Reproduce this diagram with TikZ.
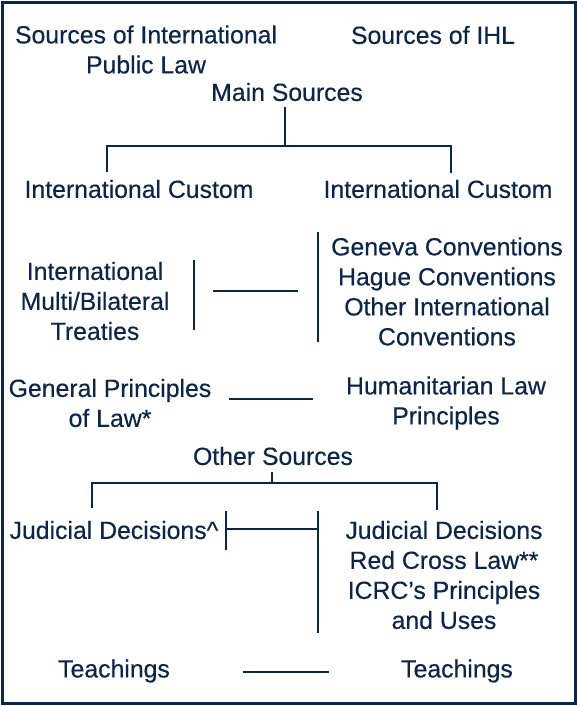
\documentclass[tikz,border=0pt]{standalone}
\usepackage{fontspec}
\setmainfont{Liberation Sans}[FakeBold=0.35]
\definecolor{navy}{RGB}{12,38,72}
\begin{document}
\begin{tikzpicture}[x=1pt,y=-1pt,
  lbl/.style={text=navy,inner sep=0pt,align=center,font=\fontsize{24.8}{30}\selectfont},
  conn/.style={draw=navy,line width=2.2pt},
  frame/.style={draw=navy,line width=3pt}]
\useasboundingbox (0,0) rectangle (577,706);
\draw[frame] (2,3) rectangle (575.5,703.5);
% nodes
\node[lbl] (sil) at (146,49.5) {Sources of International\\Public Law};
\node[lbl] (ihl) at (433,35) {Sources of IHL};
\node[lbl] (main) at (287,92) {Main Sources};
\node[lbl] (ic1) at (139,189) {International Custom};
\node[lbl] (ic2) at (438,189) {International Custom};
\node[lbl] (treat) at (95,301) {International\\Multi/Bilateral\\Treaties};
\node[lbl] (conv) at (447,291.5) {Geneva Conventions\\Hague Conventions\\Other International\\Conventions};
\node[lbl] (gpl) at (110,403) {General Principles\\of Law*};
\node[lbl] (hlp) at (446,403) {Humanitarian Law\\Principles};
\node[lbl] (other) at (273,456) {Other Sources};
\node[lbl] (jd1) at (114,530) {Judicial Decisions\^{}};
\node[lbl] (jd2) at (444,575) {Judicial Decisions\\Red Cross Law**\\ICRC’s Principles\\and Uses};
\node[lbl] (t1) at (114,671) {Teachings};
\node[lbl] (t2) at (457,671) {Teachings};
% coordinates
\coordinate (mtop) at (285,107);
\coordinate (mj) at (285,146);
\coordinate (ml) at (107,172);
\coordinate (mr) at (451,173);
\coordinate (ttop) at (194,260);
\coordinate (tbot) at (194,330);
\coordinate (ctop) at (318,232);
\coordinate (cbot) at (318,342);
\coordinate (tl) at (213,291);
\coordinate (tr) at (298,291);
\coordinate (gl) at (229,399);
\coordinate (gr) at (313,399);
\coordinate (otop) at (272,472);
\coordinate (oj) at (272,483);
\coordinate (ol) at (92,508);
\coordinate (or) at (437,510);
\coordinate (jtop) at (226,511);
\coordinate (jbot) at (226,550);
\coordinate (j2top) at (318,511);
\coordinate (j2bot) at (318,633);
\coordinate (jl) at (226,529);
\coordinate (jr) at (318,529);
\coordinate (tcl) at (243,672);
\coordinate (tcr) at (329,672);
% connectors
\draw[conn] (mtop) -- (mj);
\draw[conn] (ml) |- (mj) -| (mr);
\draw[conn] (ttop) -- (tbot);
\draw[conn] (ctop) -- (cbot);
\draw[conn] (tl) -- (tr);
\draw[conn] (gl) -- (gr);
\draw[conn] (otop) -- (oj);
\draw[conn] (ol) |- (oj) -| (or);
\draw[conn] (jtop) -- (jbot);
\draw[conn] (j2top) -- (j2bot);
\draw[conn] (jl) -- (jr);
\draw[conn] (tcl) -- (tcr);
\end{tikzpicture}
\end{document}
